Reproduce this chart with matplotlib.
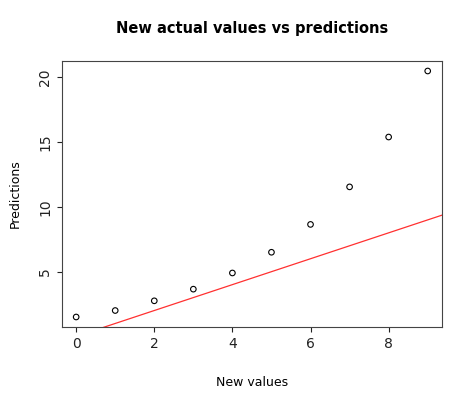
import matplotlib
matplotlib.use("Agg")
import matplotlib.pyplot as plt
import numpy as np

new_values = [0, 1, 2, 3, 4, 5, 6, 7, 8, 9]
predictions = [1.5, 2.0, 2.75, 3.65, 4.9, 6.5, 8.65, 11.55, 15.4, 20.5]
line_intercept, line_slope = 0, 1

fig = plt.figure(figsize=(4.74, 4.05), dpi=100)
ax = fig.add_axes([0.131, 0.193, 0.801, 0.656])
ax.scatter(new_values, predictions, s=16, facecolors='none', edgecolors='black', linewidths=0.8)
xr = (min(new_values), max(new_values)); d = (xr[1]-xr[0])*0.04
ax.set_xlim(xr[0]-d, xr[1]+d)
yr = (min(predictions), max(predictions)); dy = (yr[1]-yr[0])*0.04
ax.set_ylim(yr[0]-dy, yr[1]+dy)
xs = np.array(ax.get_xlim())
ax.plot(xs, line_intercept + line_slope*xs, color='#ff3030', lw=0.9)
for s in ax.spines.values():
    s.set_color('#444444')
ax.set_xticks([0, 2, 4, 6, 8])
ax.set_yticks([5, 10, 15, 20])
ax.set_yticklabels(['5', '10', '15', '20'], rotation=90, va='center')
ax.tick_params(labelsize=10, colors='#222222')
ax.set_xlabel("New values", fontsize=9, labelpad=18)
ax.set_ylabel("Predictions", fontsize=9, labelpad=12)
ax.set_title("New actual values vs predictions", fontsize=10.5, fontweight='bold', pad=20)
fig.savefig("out.png", dpi=100)
